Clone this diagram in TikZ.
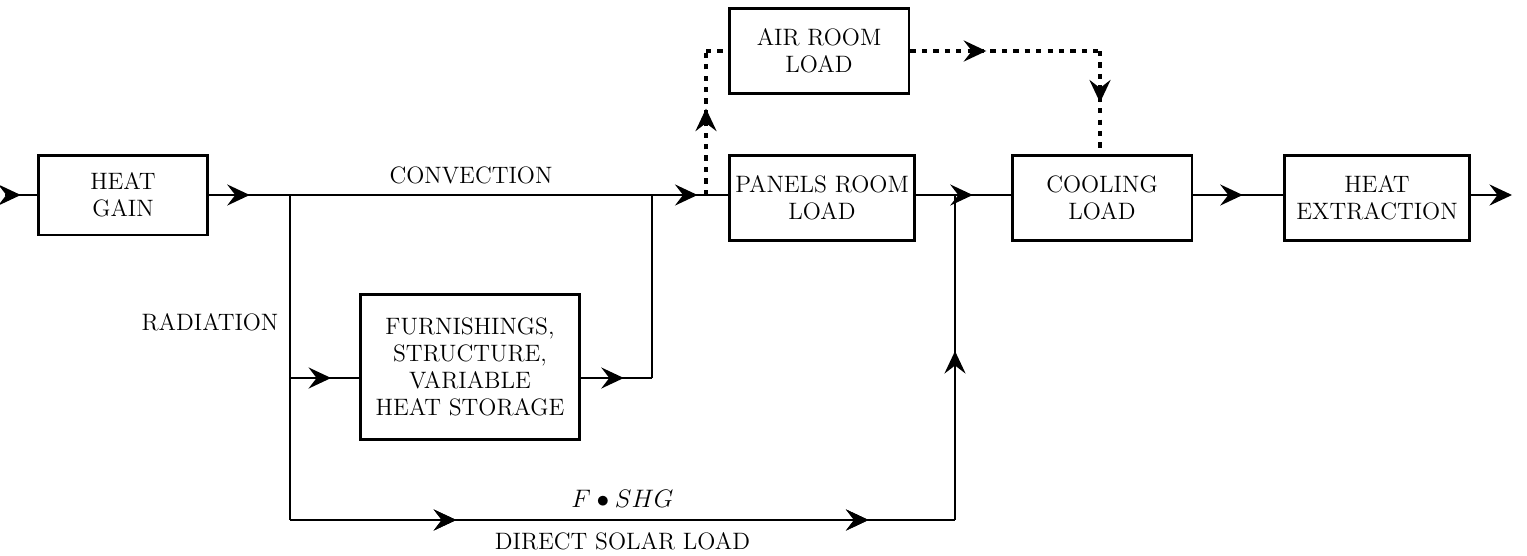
\documentclass[tikz,border=0pt]{standalone}
\usetikzlibrary{arrows.meta,decorations.markings}
\begin{document}
\begin{tikzpicture}[x=0.02cm,y=-0.02cm,line width=1.5pt,
  font=\fontsize{13.5}{15.5}\selectfont,
  box/.style={draw,rectangle,align=center,line width=1.7pt},
  mid/.style={postaction={decorate},decoration={markings,
    mark=at position #1 with {\arrow{Stealth[length=4.5mm,width=4.2mm,inset=1.6mm]}}}},
  dot/.style={line width=2.2pt,dash pattern=on 3pt off 3.5pt}]
  \useasboundingbox (0,0) rectangle (1527,555);

  \node[box,minimum width=3.4cm,minimum height=1.6cm] at (123,195) (gain) {HEAT\\GAIN};
  \node[box,minimum width=3.6cm,minimum height=1.7cm] at (822,198) (panels) {PANELS ROOM\\LOAD};
  \node[box,minimum width=3.6cm,minimum height=1.7cm] at (819,51) (air) {AIR ROOM\\LOAD};
  \node[box,minimum width=3.6cm,minimum height=1.7cm] at (1102,198) (cool) {COOLING\\LOAD};
  \node[box,minimum width=3.7cm,minimum height=1.7cm] at (1377,198) (extr) {HEAT\\EXTRACTION};
  \node[box,minimum width=4.4cm,minimum height=2.9cm] at (470,367) (furn) {FURNISHINGS,\\STRUCTURE,\\VARIABLE\\HEAT STORAGE};

  \coordinate (in) at (5,195);
  \coordinate (out) at (1512,195);
  \coordinate (r0) at (290,195);
  \coordinate (r1) at (290,378);
  \coordinate (r2) at (290,520);
  \coordinate (f1) at (652,378);
  \coordinate (f2) at (652,195);
  \coordinate (d1) at (955,520);
  \coordinate (d2) at (955,195);
  \coordinate (a0) at (706,195);
  \coordinate (a1) at (706,51);
  \coordinate (c1) at (1100,51);

  % main path
  \draw[mid=0.5] (in) -- (gain.west |- in);
  \draw[mid=0.5] (gain.east |- r0) -- (r0);
  \draw (r0) -- node[above=2pt] {CONVECTION} (f2);
  \draw[mid=0.6] (f2) -- (panels.west |- f2);
  \draw[mid=0.6] (panels.east |- d2) -- (cool.west |- d2);
  \draw[mid=0.55] (cool.east |- out) -- (extr.west |- out);
  \draw[-{Stealth[length=4.5mm,width=4.2mm,inset=1.6mm]}] (extr.east |- out) -- (out);

  % radiation
  \draw (r0) -- (r2);
  \node at (210,322) (rad) {RADIATION};
  \draw[mid=0.6] (r1) -- (furn.west |- r1);
  \draw[mid=0.6] (furn.east |- f1) -- (f1);
  \draw (f1) -- (f2);
  \draw[mid=0.25,mid=0.87] (r2) -- node[above=3pt] {$F\bullet SHG$}
    node[below=3pt] {DIRECT SOLAR LOAD} (d1);
  \draw[mid=0.52] (d1) -- (d2);

  % air room load
  \draw[dot,mid=0.6] (a0) -- (a1);
  \draw[dot] (a1) -- (air.west |- a1);
  \draw[dot,mid=0.4] (air.east |- c1) -- (c1);
  \draw[dot,mid=0.5] (c1) -- (cool.north -| c1);
\end{tikzpicture}
\end{document}
